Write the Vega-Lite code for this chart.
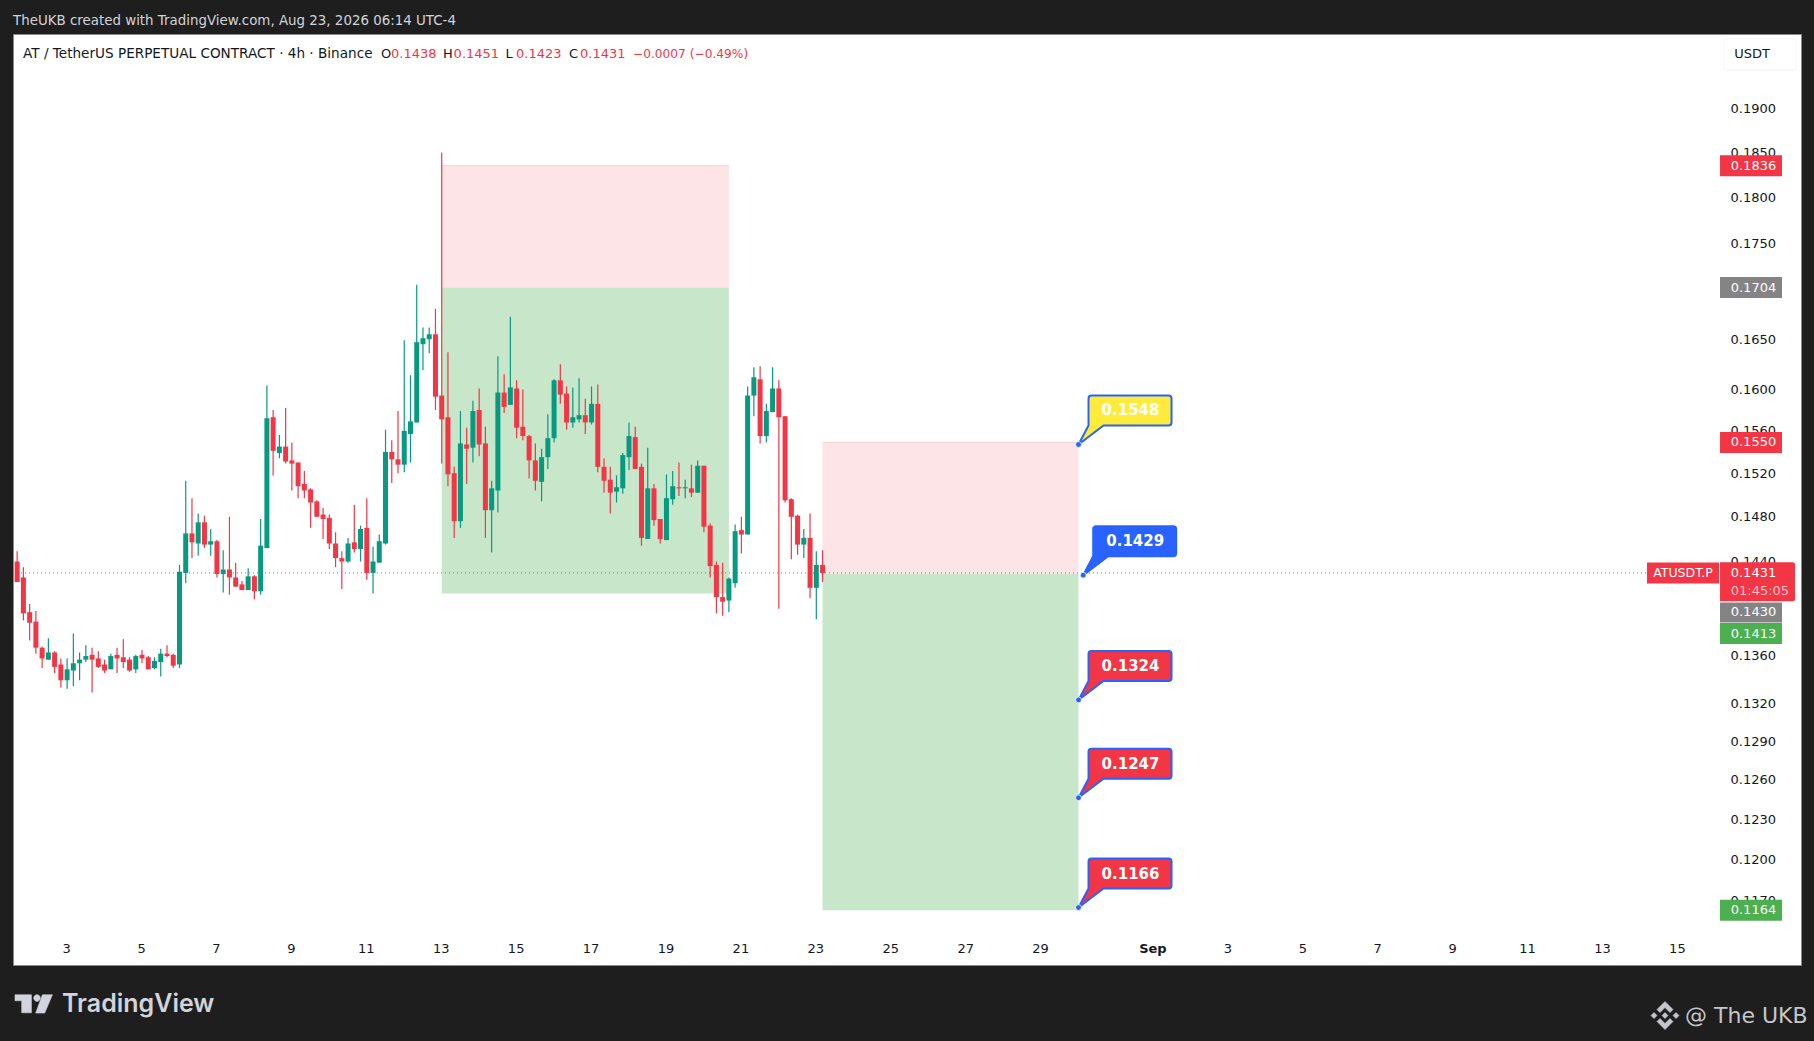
{
  "$schema": "https://vega.github.io/schema/vega-lite/v6.json",
  "description": "AT / TetherUS perpetual 4h candles with two position boxes and price callouts.",
  "autosize": {"type": "none"},
  "padding": {"left": 13, "top": 34, "right": 13, "bottom": 76},
  "width": 1788,
  "height": 931,
  "background": "#1e1e1e",
  "view": {"fill": "#ffffff", "stroke": "#8a8a8a", "strokeWidth": 1},
  "title": {"text": "TheUKB created with TradingView.com, Aug 23, 2026 06:14 UTC-4", "anchor": "start", "frame": "group", "offset": 7, "font": "DejaVu Sans", "fontSize": 13.4, "fontWeight": "normal", "color": "#d1d4dc"},
  "resolve": {"scale": {"fill": "independent", "shape": "independent", "stroke": "independent"}},
  "datasets": {
    "candles": [
      {"t":"2026-08-01T16:00:00Z","o":0.1441,"h":0.1450,"l":0.1423,"c":0.1423},
      {"t":"2026-08-01T20:00:00Z","o":0.1427,"h":0.1436,"l":0.1390,"c":0.1396},
      {"t":"2026-08-02T00:00:00Z","o":0.1397,"h":0.1404,"l":0.1373,"c":0.1388},
      {"t":"2026-08-02T04:00:00Z","o":0.1389,"h":0.1398,"l":0.1362,"c":0.1367},
      {"t":"2026-08-02T08:00:00Z","o":0.1367,"h":0.1368,"l":0.1350,"c":0.1358},
      {"t":"2026-08-02T12:00:00Z","o":0.1357,"h":0.1375,"l":0.1357,"c":0.1363},
      {"t":"2026-08-02T16:00:00Z","o":0.1363,"h":0.1364,"l":0.1346,"c":0.1351},
      {"t":"2026-08-02T20:00:00Z","o":0.1353,"h":0.1358,"l":0.1334,"c":0.1340},
      {"t":"2026-08-03T00:00:00Z","o":0.1340,"h":0.1358,"l":0.1333,"c":0.1349},
      {"t":"2026-08-03T04:00:00Z","o":0.1348,"h":0.1379,"l":0.1335,"c":0.1354},
      {"t":"2026-08-03T08:00:00Z","o":0.1354,"h":0.1363,"l":0.1340,"c":0.1357},
      {"t":"2026-08-03T12:00:00Z","o":0.1357,"h":0.1369,"l":0.1355,"c":0.1360},
      {"t":"2026-08-03T16:00:00Z","o":0.1361,"h":0.1367,"l":0.1330,"c":0.1357},
      {"t":"2026-08-03T20:00:00Z","o":0.1358,"h":0.1364,"l":0.1350,"c":0.1351},
      {"t":"2026-08-04T00:00:00Z","o":0.1353,"h":0.1357,"l":0.1346,"c":0.1348},
      {"t":"2026-08-04T04:00:00Z","o":0.1349,"h":0.1362,"l":0.1349,"c":0.1360},
      {"t":"2026-08-04T08:00:00Z","o":0.1361,"h":0.1367,"l":0.1346,"c":0.1358},
      {"t":"2026-08-04T12:00:00Z","o":0.1359,"h":0.1374,"l":0.1350,"c":0.1355},
      {"t":"2026-08-04T16:00:00Z","o":0.1357,"h":0.1359,"l":0.1347,"c":0.1348},
      {"t":"2026-08-04T20:00:00Z","o":0.1349,"h":0.1361,"l":0.1346,"c":0.1360},
      {"t":"2026-08-05T00:00:00Z","o":0.1361,"h":0.1365,"l":0.1354,"c":0.1358},
      {"t":"2026-08-05T04:00:00Z","o":0.1359,"h":0.1360,"l":0.1349,"c":0.1349},
      {"t":"2026-08-05T08:00:00Z","o":0.1350,"h":0.1359,"l":0.1349,"c":0.1356},
      {"t":"2026-08-05T12:00:00Z","o":0.1355,"h":0.1366,"l":0.1343,"c":0.1362},
      {"t":"2026-08-05T16:00:00Z","o":0.1362,"h":0.1369,"l":0.1359,"c":0.1360},
      {"t":"2026-08-05T20:00:00Z","o":0.1361,"h":0.1362,"l":0.1350,"c":0.1352},
      {"t":"2026-08-06T00:00:00Z","o":0.1353,"h":0.1438,"l":0.1350,"c":0.1432},
      {"t":"2026-08-06T04:00:00Z","o":0.1431,"h":0.1514,"l":0.1422,"c":0.1466},
      {"t":"2026-08-06T08:00:00Z","o":0.1466,"h":0.1498,"l":0.1444,"c":0.1458},
      {"t":"2026-08-06T12:00:00Z","o":0.1457,"h":0.1484,"l":0.1446,"c":0.1476},
      {"t":"2026-08-06T16:00:00Z","o":0.1476,"h":0.1482,"l":0.1453,"c":0.1456},
      {"t":"2026-08-06T20:00:00Z","o":0.1456,"h":0.1470,"l":0.1446,"c":0.1459},
      {"t":"2026-08-07T00:00:00Z","o":0.1459,"h":0.1460,"l":0.1427,"c":0.1430},
      {"t":"2026-08-07T04:00:00Z","o":0.1430,"h":0.1451,"l":0.1414,"c":0.1434},
      {"t":"2026-08-07T08:00:00Z","o":0.1434,"h":0.1481,"l":0.1412,"c":0.1427},
      {"t":"2026-08-07T12:00:00Z","o":0.1427,"h":0.1440,"l":0.1419,"c":0.1419},
      {"t":"2026-08-07T16:00:00Z","o":0.1421,"h":0.1424,"l":0.1416,"c":0.1416},
      {"t":"2026-08-07T20:00:00Z","o":0.1416,"h":0.1435,"l":0.1416,"c":0.1428},
      {"t":"2026-08-08T00:00:00Z","o":0.1428,"h":0.1429,"l":0.1408,"c":0.1415},
      {"t":"2026-08-08T04:00:00Z","o":0.1415,"h":0.1479,"l":0.1412,"c":0.1455},
      {"t":"2026-08-08T08:00:00Z","o":0.1453,"h":0.1605,"l":0.1453,"c":0.1573},
      {"t":"2026-08-08T12:00:00Z","o":0.1574,"h":0.1581,"l":0.1519,"c":0.1542},
      {"t":"2026-08-08T16:00:00Z","o":0.1540,"h":0.1557,"l":0.1535,"c":0.1546},
      {"t":"2026-08-08T20:00:00Z","o":0.1546,"h":0.1583,"l":0.1530,"c":0.1532},
      {"t":"2026-08-09T00:00:00Z","o":0.1533,"h":0.1550,"l":0.1505,"c":0.1530},
      {"t":"2026-08-09T04:00:00Z","o":0.1531,"h":0.1531,"l":0.1498,"c":0.1509},
      {"t":"2026-08-09T08:00:00Z","o":0.1511,"h":0.1523,"l":0.1498,"c":0.1505},
      {"t":"2026-08-09T12:00:00Z","o":0.1506,"h":0.1507,"l":0.1471,"c":0.1494},
      {"t":"2026-08-09T16:00:00Z","o":0.1495,"h":0.1496,"l":0.1481,"c":0.1481},
      {"t":"2026-08-09T20:00:00Z","o":0.1483,"h":0.1489,"l":0.1461,"c":0.1479},
      {"t":"2026-08-10T00:00:00Z","o":0.1480,"h":0.1483,"l":0.1452,"c":0.1457},
      {"t":"2026-08-10T04:00:00Z","o":0.1457,"h":0.1467,"l":0.1436,"c":0.1444},
      {"t":"2026-08-10T08:00:00Z","o":0.1444,"h":0.1450,"l":0.1417,"c":0.1441},
      {"t":"2026-08-10T12:00:00Z","o":0.1441,"h":0.1462,"l":0.1440,"c":0.1457},
      {"t":"2026-08-10T16:00:00Z","o":0.1458,"h":0.1492,"l":0.1449,"c":0.1452},
      {"t":"2026-08-10T20:00:00Z","o":0.1452,"h":0.1473,"l":0.1441,"c":0.1470},
      {"t":"2026-08-11T00:00:00Z","o":0.1471,"h":0.1498,"l":0.1425,"c":0.1431},
      {"t":"2026-08-11T04:00:00Z","o":0.1431,"h":0.1454,"l":0.1413,"c":0.1441},
      {"t":"2026-08-11T08:00:00Z","o":0.1440,"h":0.1465,"l":0.1440,"c":0.1459},
      {"t":"2026-08-11T12:00:00Z","o":0.1457,"h":0.1562,"l":0.1456,"c":0.1541},
      {"t":"2026-08-11T16:00:00Z","o":0.1541,"h":0.1552,"l":0.1512,"c":0.1534},
      {"t":"2026-08-11T20:00:00Z","o":0.1534,"h":0.1580,"l":0.1521,"c":0.1529},
      {"t":"2026-08-12T00:00:00Z","o":0.1529,"h":0.1650,"l":0.1522,"c":0.1561},
      {"t":"2026-08-12T04:00:00Z","o":0.1558,"h":0.1615,"l":0.1531,"c":0.1570},
      {"t":"2026-08-12T08:00:00Z","o":0.1569,"h":0.1707,"l":0.1569,"c":0.1648},
      {"t":"2026-08-12T12:00:00Z","o":0.1646,"h":0.1663,"l":0.1620,"c":0.1652},
      {"t":"2026-08-12T16:00:00Z","o":0.1651,"h":0.1663,"l":0.1637,"c":0.1656},
      {"t":"2026-08-12T20:00:00Z","o":0.1656,"h":0.1682,"l":0.1581,"c":0.1594},
      {"t":"2026-08-13T00:00:00Z","o":0.1595,"h":0.1851,"l":0.1530,"c":0.1572},
      {"t":"2026-08-13T04:00:00Z","o":0.1574,"h":0.1638,"l":0.1509,"c":0.1520},
      {"t":"2026-08-13T08:00:00Z","o":0.1521,"h":0.1527,"l":0.1462,"c":0.1477},
      {"t":"2026-08-13T12:00:00Z","o":0.1477,"h":0.1580,"l":0.1471,"c":0.1549},
      {"t":"2026-08-13T16:00:00Z","o":0.1548,"h":0.1564,"l":0.1511,"c":0.1544},
      {"t":"2026-08-13T20:00:00Z","o":0.1545,"h":0.1590,"l":0.1531,"c":0.1580},
      {"t":"2026-08-14T00:00:00Z","o":0.1581,"h":0.1602,"l":0.1537,"c":0.1548},
      {"t":"2026-08-14T04:00:00Z","o":0.1549,"h":0.1565,"l":0.1462,"c":0.1487},
      {"t":"2026-08-14T08:00:00Z","o":0.1487,"h":0.1514,"l":0.1449,"c":0.1507},
      {"t":"2026-08-14T12:00:00Z","o":0.1505,"h":0.1634,"l":0.1485,"c":0.1598},
      {"t":"2026-08-14T16:00:00Z","o":0.1598,"h":0.1616,"l":0.1578,"c":0.1584},
      {"t":"2026-08-14T20:00:00Z","o":0.1586,"h":0.1674,"l":0.1586,"c":0.1603},
      {"t":"2026-08-15T00:00:00Z","o":0.1602,"h":0.1610,"l":0.1554,"c":0.1564},
      {"t":"2026-08-15T04:00:00Z","o":0.1565,"h":0.1601,"l":0.1552,"c":0.1556},
      {"t":"2026-08-15T08:00:00Z","o":0.1556,"h":0.1557,"l":0.1516,"c":0.1533},
      {"t":"2026-08-15T12:00:00Z","o":0.1533,"h":0.1549,"l":0.1505,"c":0.1514},
      {"t":"2026-08-15T16:00:00Z","o":0.1513,"h":0.1544,"l":0.1495,"c":0.1536},
      {"t":"2026-08-15T20:00:00Z","o":0.1536,"h":0.1577,"l":0.1525,"c":0.1554},
      {"t":"2026-08-16T00:00:00Z","o":0.1554,"h":0.1611,"l":0.1550,"c":0.1610},
      {"t":"2026-08-16T04:00:00Z","o":0.1610,"h":0.1626,"l":0.1587,"c":0.1596},
      {"t":"2026-08-16T08:00:00Z","o":0.1597,"h":0.1604,"l":0.1562,"c":0.1569},
      {"t":"2026-08-16T12:00:00Z","o":0.1569,"h":0.1603,"l":0.1564,"c":0.1574},
      {"t":"2026-08-16T16:00:00Z","o":0.1572,"h":0.1612,"l":0.1569,"c":0.1576},
      {"t":"2026-08-16T20:00:00Z","o":0.1576,"h":0.1592,"l":0.1558,"c":0.1569},
      {"t":"2026-08-17T00:00:00Z","o":0.1569,"h":0.1604,"l":0.1567,"c":0.1587},
      {"t":"2026-08-17T04:00:00Z","o":0.1587,"h":0.1606,"l":0.1522,"c":0.1527},
      {"t":"2026-08-17T08:00:00Z","o":0.1527,"h":0.1535,"l":0.1503,"c":0.1514},
      {"t":"2026-08-17T12:00:00Z","o":0.1515,"h":0.1527,"l":0.1484,"c":0.1503},
      {"t":"2026-08-17T16:00:00Z","o":0.1504,"h":0.1519,"l":0.1494,"c":0.1508},
      {"t":"2026-08-17T20:00:00Z","o":0.1507,"h":0.1540,"l":0.1502,"c":0.1538},
      {"t":"2026-08-18T00:00:00Z","o":0.1536,"h":0.1569,"l":0.1524,"c":0.1556},
      {"t":"2026-08-18T04:00:00Z","o":0.1555,"h":0.1565,"l":0.1525,"c":0.1525},
      {"t":"2026-08-18T08:00:00Z","o":0.1527,"h":0.1530,"l":0.1455,"c":0.1462},
      {"t":"2026-08-18T12:00:00Z","o":0.1461,"h":0.1545,"l":0.1461,"c":0.1507},
      {"t":"2026-08-18T16:00:00Z","o":0.1507,"h":0.1511,"l":0.1473,"c":0.1478},
      {"t":"2026-08-18T20:00:00Z","o":0.1479,"h":0.1479,"l":0.1457,"c":0.1461},
      {"t":"2026-08-19T00:00:00Z","o":0.1460,"h":0.1520,"l":0.1460,"c":0.1498},
      {"t":"2026-08-19T04:00:00Z","o":0.1497,"h":0.1523,"l":0.1492,"c":0.1509},
      {"t":"2026-08-19T08:00:00Z","o":0.1508,"h":0.1531,"l":0.1500,"c":0.1507},
      {"t":"2026-08-19T12:00:00Z","o":0.1507,"h":0.1515,"l":0.1498,"c":0.1508},
      {"t":"2026-08-19T16:00:00Z","o":0.1507,"h":0.1529,"l":0.1499,"c":0.1503},
      {"t":"2026-08-19T20:00:00Z","o":0.1503,"h":0.1533,"l":0.1503,"c":0.1528},
      {"t":"2026-08-20T00:00:00Z","o":0.1528,"h":0.1528,"l":0.1467,"c":0.1472},
      {"t":"2026-08-20T04:00:00Z","o":0.1473,"h":0.1475,"l":0.1427,"c":0.1437},
      {"t":"2026-08-20T08:00:00Z","o":0.1438,"h":0.1441,"l":0.1396,"c":0.1410},
      {"t":"2026-08-20T12:00:00Z","o":0.1410,"h":0.1440,"l":0.1394,"c":0.1406},
      {"t":"2026-08-20T16:00:00Z","o":0.1407,"h":0.1427,"l":0.1397,"c":0.1426},
      {"t":"2026-08-20T20:00:00Z","o":0.1422,"h":0.1474,"l":0.1418,"c":0.1468},
      {"t":"2026-08-21T00:00:00Z","o":0.1469,"h":0.1481,"l":0.1448,"c":0.1465},
      {"t":"2026-08-21T04:00:00Z","o":0.1465,"h":0.1604,"l":0.1465,"c":0.1595},
      {"t":"2026-08-21T08:00:00Z","o":0.1595,"h":0.1623,"l":0.1575,"c":0.1613},
      {"t":"2026-08-21T12:00:00Z","o":0.1611,"h":0.1624,"l":0.1549,"c":0.1556},
      {"t":"2026-08-21T16:00:00Z","o":0.1556,"h":0.1587,"l":0.1550,"c":0.1580},
      {"t":"2026-08-21T20:00:00Z","o":0.1579,"h":0.1623,"l":0.1579,"c":0.1602},
      {"t":"2026-08-22T00:00:00Z","o":0.1602,"h":0.1610,"l":0.1400,"c":0.1574},
      {"t":"2026-08-22T04:00:00Z","o":0.1575,"h":0.1575,"l":0.1494,"c":0.1496},
      {"t":"2026-08-22T08:00:00Z","o":0.1497,"h":0.1498,"l":0.1443,"c":0.1481},
      {"t":"2026-08-22T12:00:00Z","o":0.1482,"h":0.1483,"l":0.1447,"c":0.1456},
      {"t":"2026-08-22T16:00:00Z","o":0.1456,"h":0.1470,"l":0.1444,"c":0.1462},
      {"t":"2026-08-22T20:00:00Z","o":0.1462,"h":0.1484,"l":0.1409,"c":0.1418},
      {"t":"2026-08-23T00:00:00Z","o":0.1418,"h":0.1450,"l":0.1391,"c":0.1438},
      {"t":"2026-08-23T04:00:00Z","o":0.1438,"h":0.1451,"l":0.1423,"c":0.1431}
    ],
    "boxes": [
      {"t":"2026-08-13T00:00:00Z","end":"2026-08-20T16:00:00Z","top":0.1836,"bottom":0.1704,"zone":"stop"},
      {"t":"2026-08-13T00:00:00Z","end":"2026-08-20T16:00:00Z","top":0.1704,"bottom":0.1413,"zone":"target"},
      {"t":"2026-08-23T04:00:00Z","end":"2026-08-30T00:00:00Z","top":0.155,"bottom":0.143,"zone":"stop"},
      {"t":"2026-08-23T04:00:00Z","end":"2026-08-30T00:00:00Z","top":0.143,"bottom":0.1164,"zone":"target"}
    ],
    "callouts": [
      {"t":"2026-08-30T00:00:00Z","price":0.1548,"label":"0.1548","role":"stop"},
      {"t":"2026-08-30T03:00:00Z","price":0.1429,"label":"0.1429","role":"entry"},
      {"t":"2026-08-30T00:00:00Z","price":0.1324,"label":"0.1324","role":"target"},
      {"t":"2026-08-30T00:00:00Z","price":0.1247,"label":"0.1247","role":"target"},
      {"t":"2026-08-30T00:00:00Z","price":0.1166,"label":"0.1166","role":"target"}
    ],
    "tags": [
      {"t":"2026-09-16T03:00:00Z","price":0.1836,"label":"0.1836","kind":"red"},
      {"t":"2026-09-16T03:00:00Z","price":0.1704,"label":"0.1704","kind":"grey"},
      {"t":"2026-09-16T03:00:00Z","price":0.155,"label":"0.1550","kind":"red"},
      {"t":"2026-09-16T03:00:00Z","price":0.1164,"label":"0.1164","kind":"green"},
      {"t":"2026-09-16T03:00:00Z","price":0.1431,"label":"0.1431","kind":"last"},
      {"t":"2026-09-16T03:00:00Z","price":0.143,"label":"0.1430","kind":"greyLow"},
      {"t":"2026-09-16T03:00:00Z","price":0.1413,"label":"0.1413","kind":"greenLow"},
      {"t":"2026-09-16T03:00:00Z","price":0.1431,"label":"ATUSDT.P","kind":"symbol"},
      {"t":"2026-09-16T03:00:00Z","price":0.1431,"label":"01:45:05","kind":"countdown"}
    ],
    "legendLine": [
      {"t":"2026-08-11T09:07:00Z","price":0.1966,"text":"O","tone":"ink"},
      {"t":"2026-08-11T15:32:00Z","price":0.1966,"text":"0.1438","tone":"red"},
      {"t":"2026-08-13T00:50:00Z","price":0.1966,"text":"H","tone":"ink"},
      {"t":"2026-08-13T07:38:00Z","price":0.1966,"text":"0.1451","tone":"red"},
      {"t":"2026-08-14T16:56:00Z","price":0.1966,"text":"L","tone":"ink"},
      {"t":"2026-08-14T23:36:00Z","price":0.1966,"text":"0.1423","tone":"red"},
      {"t":"2026-08-16T09:33:00Z","price":0.1966,"text":"C","tone":"ink"},
      {"t":"2026-08-16T16:36:00Z","price":0.1966,"text":"0.1431","tone":"red"}
    ],
    "glyphs": [
      {"t":"2026-09-16T03:00:00Z","price":0.19655,"name":"button"},
      {"t":"2026-08-01T14:37:00Z","price":0.10993,"name":"logo"},
      {"t":"2026-09-14T15:45:00Z","price":0.10914,"name":"diamond"}
    ]
  },
  "encoding": {
    "x": {
      "field": "t",
      "type": "temporal",
      "title": null,
      "scale": {
        "type": "utc",
        "nice": false,
        "padding": 0,
        "domain": [
          {"year":2026,"month":"aug","date":1,"hours":13,"minutes":20,"utc":true},
          {"year":2026,"month":"sep","date":18,"hours":6,"minutes":53,"utc":true}
        ]
      },
      "axis": {
        "orient": "bottom",
        "offset": -23,
        "title": null,
        "grid": false,
        "domain": false,
        "ticks": false,
        "labelPadding": 0,
        "labelOffset": -1,
        "labelFont": "DejaVu Sans",
        "labelFontSize": 13,
        "labelColor": "#131722",
        "labelFlush": false,
        "labelOverlap": false,
        "labelFontWeight": {"condition": {"test": "utcdate(datum.value)==1", "value": "bold"}, "value": "normal"},
        "labelExpr": "utcdate(datum.value)==1 ? 'Sep' : utcdate(datum.value)",
        "values": [
          {"year":2026,"month":"aug","date":3,"utc":true},{"year":2026,"month":"aug","date":5,"utc":true},
          {"year":2026,"month":"aug","date":7,"utc":true},{"year":2026,"month":"aug","date":9,"utc":true},
          {"year":2026,"month":"aug","date":11,"utc":true},{"year":2026,"month":"aug","date":13,"utc":true},
          {"year":2026,"month":"aug","date":15,"utc":true},{"year":2026,"month":"aug","date":17,"utc":true},
          {"year":2026,"month":"aug","date":19,"utc":true},{"year":2026,"month":"aug","date":21,"utc":true},
          {"year":2026,"month":"aug","date":23,"utc":true},{"year":2026,"month":"aug","date":25,"utc":true},
          {"year":2026,"month":"aug","date":27,"utc":true},{"year":2026,"month":"aug","date":29,"utc":true},
          {"year":2026,"month":"sep","date":1,"utc":true},{"year":2026,"month":"sep","date":3,"utc":true},
          {"year":2026,"month":"sep","date":5,"utc":true},{"year":2026,"month":"sep","date":7,"utc":true},
          {"year":2026,"month":"sep","date":9,"utc":true},{"year":2026,"month":"sep","date":11,"utc":true},
          {"year":2026,"month":"sep","date":13,"utc":true},{"year":2026,"month":"sep","date":15,"utc":true}
        ]
      }
    },
    "y": {
      "field": "price",
      "type": "quantitative",
      "title": null,
      "scale": {"type": "log", "domain": [0.11257, 0.19901], "nice": false, "zero": false},
      "axis": {
        "orient": "right",
        "offset": -71,
        "title": null,
        "grid": false,
        "domain": false,
        "ticks": false,
        "labelPadding": 0,
        "labelOffset": -1,
        "labelAlign": "left",
        "labelFont": "DejaVu Sans",
        "labelFontSize": 13,
        "labelColor": "#131722",
        "labelOverlap": false,
        "format": ".4f",
        "values": [0.19, 0.185, 0.18, 0.175, 0.165, 0.16, 0.156, 0.152, 0.148, 0.144, 0.136, 0.132, 0.129, 0.126, 0.123, 0.12, 0.117]
      }
    }
  },
  "layer": [
    {
      "data": {"name": "boxes"},
      "mark": {"type": "rect"},
      "encoding": {
        "x2": {"field": "end"},
        "y": {"field": "top", "type": "quantitative"},
        "y2": {"field": "bottom"},
        "fill": {"field": "zone", "type": "nominal", "legend": null, "scale": {"domain": ["stop", "target"], "range": ["#fde4e6", "#c8e6c9"]}}
      }
    },
    {
      "data": {"name": "boxes"},
      "transform": [{"filter": "datum.zone == 'stop'"}],
      "mark": {"type": "rule", "color": "#f8d0d4", "strokeWidth": 1},
      "encoding": {
        "x2": {"field": "end"},
        "y": {"field": "top", "type": "quantitative"}
      }
    },
    {
      "data": {"values": [{"t": "2026-08-01T13:20:00Z", "end": "2026-09-14T04:20:00Z", "price": 0.1431}]},
      "mark": {"type": "rule", "color": "#d9515c", "strokeWidth": 1, "strokeDash": [1, 3]},
      "encoding": {"x2": {"field": "end"}}
    },
    {
      "data": {"name": "candles"},
      "mark": {"type": "rule", "strokeWidth": 1.2},
      "encoding": {
        "y": {"field": "l", "type": "quantitative"},
        "y2": {"field": "h"},
        "color": {"condition": {"test": "datum.c >= datum.o", "value": "#089981"}, "value": "#f23645"}
      }
    },
    {
      "data": {"name": "candles"},
      "mark": {"type": "bar", "size": 5, "orient": "vertical"},
      "encoding": {
        "y": {"field": "o", "type": "quantitative"},
        "y2": {"field": "c"},
        "color": {"condition": {"test": "datum.c >= datum.o", "value": "#089981"}, "value": "#f23645"}
      }
    },
    {
      "data": {"name": "callouts"},
      "mark": {
        "type": "point",
        "filled": true,
        "opacity": 1,
        "size": 4,
        "stroke": "#2962ff",
        "strokeWidth": 2,
        "shape": "M0,0 L10,-19 V-46 Q10,-49 13,-49 H90 Q93,-49 93,-46 V-22 Q93,-19 90,-19 H25 Z"
      },
      "encoding": {
        "fill": {"field": "role", "type": "nominal", "legend": null, "scale": {"domain": ["stop", "entry", "target"], "range": ["#ffeb3b", "#2962ff", "#f23645"]}}
      }
    },
    {
      "data": {"name": "callouts"},
      "mark": {"type": "point", "shape": "circle", "filled": true, "opacity": 1, "size": 34, "color": "#2962ff", "stroke": "#ffffff", "strokeWidth": 0.8}
    },
    {
      "data": {"name": "callouts"},
      "mark": {"type": "text", "font": "DejaVu Sans", "fontSize": 15, "fontWeight": "bold", "color": "#ffffff", "align": "center", "baseline": "middle", "dx": 52, "dy": -34},
      "encoding": {"text": {"field": "label"}}
    },
    {
      "data": {"name": "tags"},
      "transform": [{"filter": "datum.kind != 'countdown'"}],
      "mark": {"type": "point", "filled": true, "opacity": 1, "size": 4},
      "encoding": {
        "shape": {
          "field": "kind",
          "type": "nominal",
          "legend": null,
          "scale": {
            "domain": ["red", "grey", "green", "last", "greyLow", "greenLow", "symbol"],
            "range": [
              "M0,-10.5H62V10.5H0Z",
              "M0,-10.5H62V10.5H0Z",
              "M0,-10.5H62V10.5H0Z",
              "M0,-10.7H73Q75,-10.7 75,-8.7V26.3Q75,28.3 73,28.3H0Z",
              "M0,28.4H62V48.4H0Z",
              "M0,29.5H62V50.5H0Z",
              "M-73,-10.5H-1V10.5H-73Z"
            ]
          }
        },
        "fill": {
          "field": "kind",
          "type": "nominal",
          "legend": null,
          "scale": {
            "domain": ["red", "grey", "green", "last", "greyLow", "greenLow", "symbol"],
            "range": ["#f23645", "#848484", "#4caf50", "#f23645", "#848484", "#4caf50", "#f23645"]
          }
        }
      }
    },
    {
      "data": {"name": "tags"},
      "transform": [{"filter": "indexof(['red','grey','green','last'], datum.kind) >= 0"}],
      "mark": {"type": "text", "font": "DejaVu Sans", "fontSize": 13, "color": "#ffffff", "align": "left", "baseline": "middle", "dx": 10.7},
      "encoding": {"text": {"field": "label"}}
    },
    {
      "data": {"name": "tags"},
      "transform": [{"filter": "datum.kind == 'greyLow'"}],
      "mark": {"type": "text", "font": "DejaVu Sans", "fontSize": 13, "color": "#ffffff", "align": "left", "baseline": "middle", "dx": 10.7, "dy": 38},
      "encoding": {"text": {"field": "label"}}
    },
    {
      "data": {"name": "tags"},
      "transform": [{"filter": "datum.kind == 'greenLow'"}],
      "mark": {"type": "text", "font": "DejaVu Sans", "fontSize": 13, "color": "#ffffff", "align": "left", "baseline": "middle", "dx": 10.7, "dy": 40},
      "encoding": {"text": {"field": "label"}}
    },
    {
      "data": {"name": "tags"},
      "transform": [{"filter": "datum.kind == 'countdown'"}],
      "mark": {"type": "text", "font": "DejaVu Sans", "fontSize": 13, "color": "#ffc2c7", "align": "left", "baseline": "middle", "dx": 10.7, "dy": 18},
      "encoding": {"text": {"field": "label"}}
    },
    {
      "data": {"name": "tags"},
      "transform": [{"filter": "datum.kind == 'symbol'"}],
      "mark": {"type": "text", "font": "DejaVu Sans", "fontSize": 12.5, "color": "#ffffff", "align": "center", "baseline": "middle", "dx": -37},
      "encoding": {"text": {"field": "label"}}
    },
    {
      "data": {"values": [{"t": "2026-08-01T19:45:00Z", "price": 0.1966, "text": "AT / TetherUS PERPETUAL CONTRACT · 4h · Binance"}]},
      "mark": {"type": "text", "font": "DejaVu Sans", "fontSize": 13.6, "color": "#131722", "align": "left", "baseline": "middle"},
      "encoding": {"text": {"field": "text"}}
    },
    {
      "data": {"name": "legendLine"},
      "mark": {"type": "text", "font": "DejaVu Sans", "fontSize": 13, "align": "left", "baseline": "middle"},
      "encoding": {
        "text": {"field": "text"},
        "color": {"field": "tone", "type": "nominal", "legend": null, "scale": {"domain": ["ink", "red"], "range": ["#131722", "#f23645"]}}
      }
    },
    {
      "data": {"values": [{"t": "2026-08-18T02:34:00Z", "price": 0.1966, "text": "−0.0007 (−0.49%)"}]},
      "mark": {"type": "text", "font": "DejaVu Sans", "fontSize": 12.2, "color": "#f23645", "align": "left", "baseline": "middle"},
      "encoding": {"text": {"field": "text"}}
    },
    {
      "data": {"name": "glyphs"},
      "mark": {"type": "point", "filled": true, "opacity": 1, "size": 4},
      "encoding": {
        "shape": {
          "field": "name",
          "type": "nominal",
          "legend": null,
          "scale": {
            "domain": ["button", "logo", "diamond"],
            "range": [
              "M7,-16H73Q76,-16 76,-13V13Q76,16 73,16H7Q4,16 4,13V-13Q4,-16 7,-16Z",
              "M0,-9H16.4V9H6.7V-3H0Z M18.7,-5.7a3.3,3.3 0 1,0 6.6,0a3.3,3.3 0 1,0 -6.6,0Z M27.4,-9H37.4L29.7,9.3H20.7Z",
              "M0,-3L3,0L0,3L-3,0Z M-11,-3L-8,0L-11,3L-14,0Z M11,-3L14,0L11,3L8,0Z M0,-14L8,-6L5,-3L0,-8L-5,-3L-8,-6Z M0,14L8,6L5,3L0,8L-5,3L-8,6Z"
            ]
          }
        },
        "fill": {
          "field": "name",
          "type": "nominal",
          "legend": null,
          "scale": {"domain": ["button", "logo", "diamond"], "range": ["#ffffff", "#d1d4dc", "#c4c6cc"]}
        },
        "stroke": {
          "field": "name",
          "type": "nominal",
          "legend": null,
          "scale": {"domain": ["button", "logo", "diamond"], "range": ["#eef0f3", "#d1d4dc", "#c4c6cc"]}
        },
        "strokeWidth": {"value": 0.6}
      }
    },
    {
      "data": {"values": [{"t": "2026-09-16T03:00:00Z", "price": 0.19655, "text": "USDT"}]},
      "mark": {"type": "text", "font": "DejaVu Sans", "fontSize": 13, "color": "#131722", "align": "center", "baseline": "middle", "dx": 32},
      "encoding": {"text": {"field": "text"}}
    },
    {
      "data": {"values": [{"t": "2026-08-02T20:44:00Z", "price": 0.10993, "text": "TradingView"}]},
      "mark": {"type": "text", "font": "Inter", "fontSize": 25, "fontWeight": 600, "color": "#d1d4dc", "align": "left", "baseline": "middle"},
      "encoding": {"text": {"field": "text"}}
    },
    {
      "data": {"values": [{"t": "2026-09-15T04:36:00Z", "price": 0.10914, "text": "@ The UKB"}]},
      "mark": {"type": "text", "font": "DejaVu Sans", "fontSize": 22, "color": "#c4c6cc", "align": "left", "baseline": "middle"},
      "encoding": {"text": {"field": "text"}}
    }
  ]
}
